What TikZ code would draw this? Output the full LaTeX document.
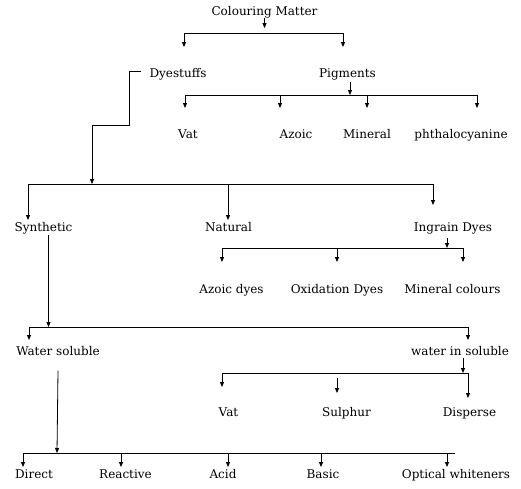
\documentclass[tikz,border=0pt]{standalone}
\usepackage{fontspec}
\setmainfont{DejaVu Serif}
\usetikzlibrary{arrows.meta}
\begin{document}
\begin{tikzpicture}[x=1pt,y=-1pt,
  lbl/.style={anchor=base,inner sep=0pt,font=\fontsize{12pt}{14pt}\selectfont},
  arr/.style={-{Triangle[length=5pt,width=4pt]}},
  line width=0.8pt]
\useasboundingbox (0,0) rectangle (521,488);
% labels
\node[lbl] (cm) at (264.5,15) {Colouring Matter};
\node[lbl] (dye) at (178,77) {Dyestuffs};
\node[lbl] (pig) at (347.5,77) {Pigments};
\node[lbl] (pvat) at (188,138) {Vat};
\node[lbl] (pazo) at (296,138) {Azoic};
\node[lbl] (pmin) at (367,138) {Mineral};
\node[lbl] (pphc) at (461,138) {phthalocyanine};
\node[lbl] (syn) at (43.5,231) {Synthetic};
\node[lbl] (nat) at (228.5,231) {Natural};
\node[lbl] (ing) at (453,231) {Ingrain Dyes};
\node[lbl] (iazo) at (231.5,293) {Azoic dyes};
\node[lbl] (ioxi) at (337,293) {Oxidation Dyes};
\node[lbl] (imin) at (452.5,293) {Mineral colours};
\node[lbl] (ws) at (58,355) {Water soluble};
\node[lbl] (wis) at (460,355) {water in soluble};
\node[lbl] (wvat) at (228.5,416) {Vat};
\node[lbl] (wsul) at (346.5,416) {Sulphur};
\node[lbl] (wdis) at (469.5,416) {Disperse};
\node[lbl] (sdir) at (34,478) {Direct};
\node[lbl] (srea) at (125.5,478) {Reactive};
\node[lbl] (saci) at (223,478) {Acid};
\node[lbl] (sbas) at (323,478) {Basic};
\node[lbl] (sopt) at (456,478) {Optical whiteners};
% bus lines
\coordinate (ba1) at (184,33); \coordinate (ba2) at (343,33);
\coordinate (bb1) at (185,95); \coordinate (bb2) at (477,95);
\coordinate (bc1) at (28,184); \coordinate (bc2) at (433,184);
\coordinate (bd1) at (222,248); \coordinate (bd2) at (463,248);
\coordinate (be1) at (29,327); \coordinate (be2) at (468,327);
\coordinate (bf1) at (222,373); \coordinate (bf2) at (468,373);
\coordinate (bg1) at (23,453); \coordinate (bg2) at (455,453);
\draw (ba1) -- (ba2);
\draw (bb1) -- (bb2);
\draw (bc1) -- (bc2);
\draw (bd1) -- (bd2);
\draw (be1) -- (be2);
\draw (bf1) -- (bf2);
\draw (bg1) -- (bg2);
% Colouring Matter
\draw[arr] (cm.south) -- ++(0,10);
\draw[arr] (ba1) -- ++(0,14);
\draw[arr] (ba2) -- ++(0,14);
% Pigments
\draw[arr] (pig.south -| 350,0) ++(0,2) -- (bb1 -| 350,0);
\draw[arr] (bb1) -- ++(0,13);
\draw[arr] (bb1 -| 280,0) -- ++(0,13);
\draw[arr] (bb1 -| 367,0) -- ++(0,13);
\draw[arr] (bb2) -- ++(0,13);
% Dyestuffs
\draw[arr] (dye.west) ++(-8,-2) -- ++(-12,0) -- ++(0,54) -| (bc1 -| 92,0);
\draw[arr] (bc1) -- ++(0,36);
\draw[arr] (bc1 -| 228,0) -- ++(0,36);
\draw[arr] (bc2) -- ++(0,21);
% Ingrain Dyes
\draw[arr] (ing.south -| 447,0) ++(0,4) -- (bd1 -| 447,0);
\draw[arr] (bd1) -- ++(0,14);
\draw[arr] (bd1 -| 337,0) -- ++(0,14);
\draw[arr] (bd2) -- ++(0,14);
% Synthetic
\draw[arr] (syn.south -| 48.5,0) ++(0,1) -- (be1 -| 48.5,0);
\draw[arr] (be1) -- ++(0,13);
\draw[arr] (be2) -- ++(0,13);
% water in soluble
\draw[arr] (wis.south -| 463,0) ++(0,2) -- (bf1 -| 463,0);
\draw[arr] (bf1) -- ++(0,14);
\draw[arr] (bf1 -| 337,0) ++(0,5) -- ++(0,15);
\draw[arr] (bf2) -- ++(0,25);
% Water soluble
\draw[arr] (ws.south -| 58,0) ++(0,15) -- (bg1 -| 57,0);
\draw[arr] (bg1) -- ++(0,14);
\draw[arr] (bg1 -| 121,0) -- ++(0,14);
\draw[arr] (bg1 -| 228,0) -- ++(0,14);
\draw[arr] (bg1 -| 321,0) -- ++(0,14);
\draw[arr] (bg1 -| 447,0) -- ++(0,14);
\end{tikzpicture}
\end{document}
